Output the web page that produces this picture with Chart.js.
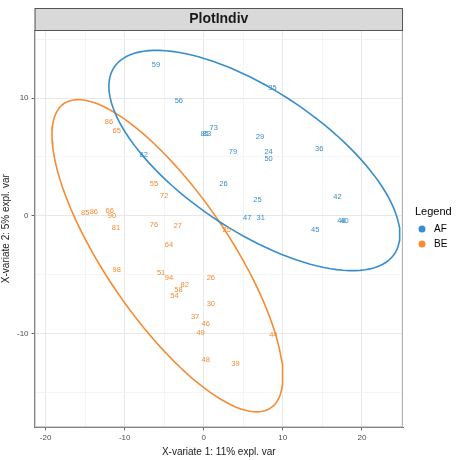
<!DOCTYPE html>
<html>
<head>
<script src="https://cdn.jsdelivr.net/npm/chart.js@4"></script>
<style>
  body { margin: 0; background: #fff; }
  #wrap { width: 474px; height: 460px; }
</style>
</head>
<body>
<div id="wrap"><canvas id="plot"></canvas></div>
<script>
const groups = ['AF', 'BE']
const colors = ['#388ECC', '#F68B33']

const afLabels = ['59', '56', '73', '85', '83', '35', '29', '79', '24', '50', '36', '82', '26', '25', '47', '31', '42', '48', '40', '45']
const afX = [-6.05, -3.15, 1.26, 0.1, 0.4, 8.7, 7.1, 3.7, 8.2, 8.2, 14.6, -7.6, 2.5, 6.8, 5.5, 7.2, 16.9, 17.4, 17.8, 14.1]
const afY = [12.8, 9.75, 7.46, 7.0, 7.0, 10.9, 6.7, 5.4, 5.4, 4.8, 5.7, 5.2, 2.7, 1.35, -0.2, -0.2, 1.6, -0.4, -0.4, -1.2]

const beLabels = ['86', '65', '55', '72', '85', '86', '66', '90', '81', '76', '27', '25', '64', '98', '51', '94', '26', '82', '58', '54', '30', '37', '46', '49', '44', '48', '39']
const beX = [-12.0, -11.0, -6.3, -5.0, -15.0, -13.9, -11.9, -11.6, -11.1, -6.3, -3.3, 2.9, -4.4, -11.0, -5.4, -4.4, 0.9, -2.4, -3.2, -3.7, 0.9, -1.1, 0.25, -0.4, 8.8, 0.25, 4.0]
const beY = [8.0, 7.2, 2.7, 1.7, 0.2, 0.3, 0.4, 0.0, -1.0, -0.8, -0.9, -1.2, -2.5, -4.6, -4.9, -5.3, -5.3, -5.9, -6.3, -6.8, -7.5, -8.6, -9.2, -10.0, -10.1, -12.3, -12.6]

// ellipse estimates: centre x, centre y, semi-axis a, semi-axis b, angle (deg)
const ellipseAF = [6.4, 4.7, 19.6, 6.5, -21.4]
const ellipseBE = [-4.6, -3.4, 18.6, 6.6, -41.5]

const xTicks = [-20, -15, -10, -5, 0, 5, 10, 15, 20, 25]
const yTicks = [-15, -10, -5, 0, 5, 10, 15]

function toPoints(xs, ys, labels) {
    return xs.map((x, i) => ({ x: x, y: ys[i], label: labels[i] }))
}

function ellipsePoints(e) {
    const pts = []
    const phi = e[4] * Math.PI / 180
    for (let i = 0; i <= 120; i++) {
        const t = i / 120 * 2 * Math.PI
        const u = e[2] * Math.cos(t), v = e[3] * Math.sin(t)
        pts.push({ x: e[0] + u * Math.cos(phi) - v * Math.sin(phi), y: e[1] + u * Math.sin(phi) + v * Math.cos(phi) })
    }
    return pts
}

const labelPlugin = {
    id: 'labelPlugin',
    afterDatasetsDraw(chart) {
        const ctx = chart.ctx
        const xs = chart.scales.x, ys = chart.scales.y
        ctx.save()
        ctx.font = '7.5px "Liberation Sans", Arial'
        ctx.textAlign = 'center'
        ctx.textBaseline = 'middle'
        chart.data.datasets.forEach(ds => {
            if (!ds.isLabels) return
            ctx.fillStyle = ds.borderColor
            ds.data.forEach(p => ctx.fillText(p.label, xs.getPixelForValue(p.x), ys.getPixelForValue(p.y)))
        })
        const a = chart.chartArea
        ctx.strokeStyle = '#b0b0b0'
        ctx.lineWidth = 1
        ctx.strokeRect(a.left + 0.5, a.top + 0.5, a.right - a.left - 1, a.bottom - a.top - 1)
        // strip
        ctx.fillStyle = '#d9d9d9'
        ctx.fillRect(a.left, a.top - 22, a.right - a.left, 22)
        ctx.strokeStyle = '#555'
        ctx.strokeRect(a.left + 0.5, a.top - 22 + 0.5, a.right - a.left - 1, 22)
        ctx.fillStyle = '#1a1a1a'
        ctx.font = 'bold 14px "Liberation Sans", Arial'
        ctx.fillText('PlotIndiv', (a.left + a.right) / 2, a.top - 11)
        // legend
        ctx.textAlign = 'left'
        ctx.font = '11px "Liberation Sans", Arial'
        ctx.fillStyle = '#000'
        ctx.fillText('Legend', a.right + 12, 212)
        groups.forEach((g, i) => {
            const y = 229 + i * 15
            ctx.fillStyle = colors[i]
            ctx.beginPath()
            ctx.arc(a.right + 19, y, 3.5, 0, 2 * Math.PI)
            ctx.fill()
            ctx.fillStyle = '#000'
            ctx.font = '10px "Liberation Sans", Arial'
            ctx.fillText(g, a.right + 31, y)
        })
        ctx.restore()
    }
}

const minor = v => Math.abs(v % 10) === 5 ? '#f4f4f4' : '#e8e8e8'
const tickCol = v => Math.abs(v % 10) === 5 ? 'rgba(0,0,0,0)' : '#666'

new Chart(document.getElementById('plot'), {
    type: 'scatter',
    data: {
        datasets: [
            { data: ellipsePoints(ellipseAF), showLine: true, borderColor: colors[0], borderWidth: 1.6, pointRadius: 0, fill: false },
            { data: ellipsePoints(ellipseBE), showLine: true, borderColor: colors[1], borderWidth: 1.6, pointRadius: 0, fill: false },
            { data: toPoints(afX, afY, afLabels), isLabels: true, borderColor: colors[0], pointRadius: 0 },
            { data: toPoints(beX, beY, beLabels), isLabels: true, borderColor: colors[1], pointRadius: 0 }
        ]
    },
    options: {
        responsive: true,
        maintainAspectRatio: false,
        animation: false,
        layout: { padding: { top: 30, right: 71, left: 0, bottom: 0 } },
        plugins: { legend: { display: false }, tooltip: { enabled: false } },
        scales: {
            x: {
                type: 'linear', min: -21.4, max: 25.2,
                afterBuildTicks: s => { s.ticks = xTicks.map(v => ({ value: v })) },
                ticks: { callback: v => v % 10 === 0 ? v : '', color: '#4d4d4d', font: { size: 8 }, maxRotation: 0, autoSkip: false },
                grid: { color: c => minor(c.tick.value), drawTicks: true, tickLength: 3, tickColor: c => tickCol(c.tick.value) },
                border: { color: '#666' },
                title: { display: true, text: 'X-variate 1: 11% expl. var', color: '#1a1a1a', font: { size: 10 }, padding: { top: 0, bottom: 2 } }
            },
            y: {
                type: 'linear', min: -18, max: 15.8,
                afterBuildTicks: s => { s.ticks = yTicks.map(v => ({ value: v })) },
                ticks: { callback: v => v % 10 === 0 ? v : '', color: '#4d4d4d', font: { size: 8 }, autoSkip: false },
                grid: { color: c => minor(c.tick.value), drawTicks: true, tickLength: 3, tickColor: c => tickCol(c.tick.value) },
                border: { color: '#666' },
                title: { display: true, text: 'X-variate 2: 5% expl. var', color: '#1a1a1a', font: { size: 10 }, padding: { top: 0, bottom: 2 } }
            }
        }
    },
    plugins: [labelPlugin]
})
</script>
</body>
</html>
